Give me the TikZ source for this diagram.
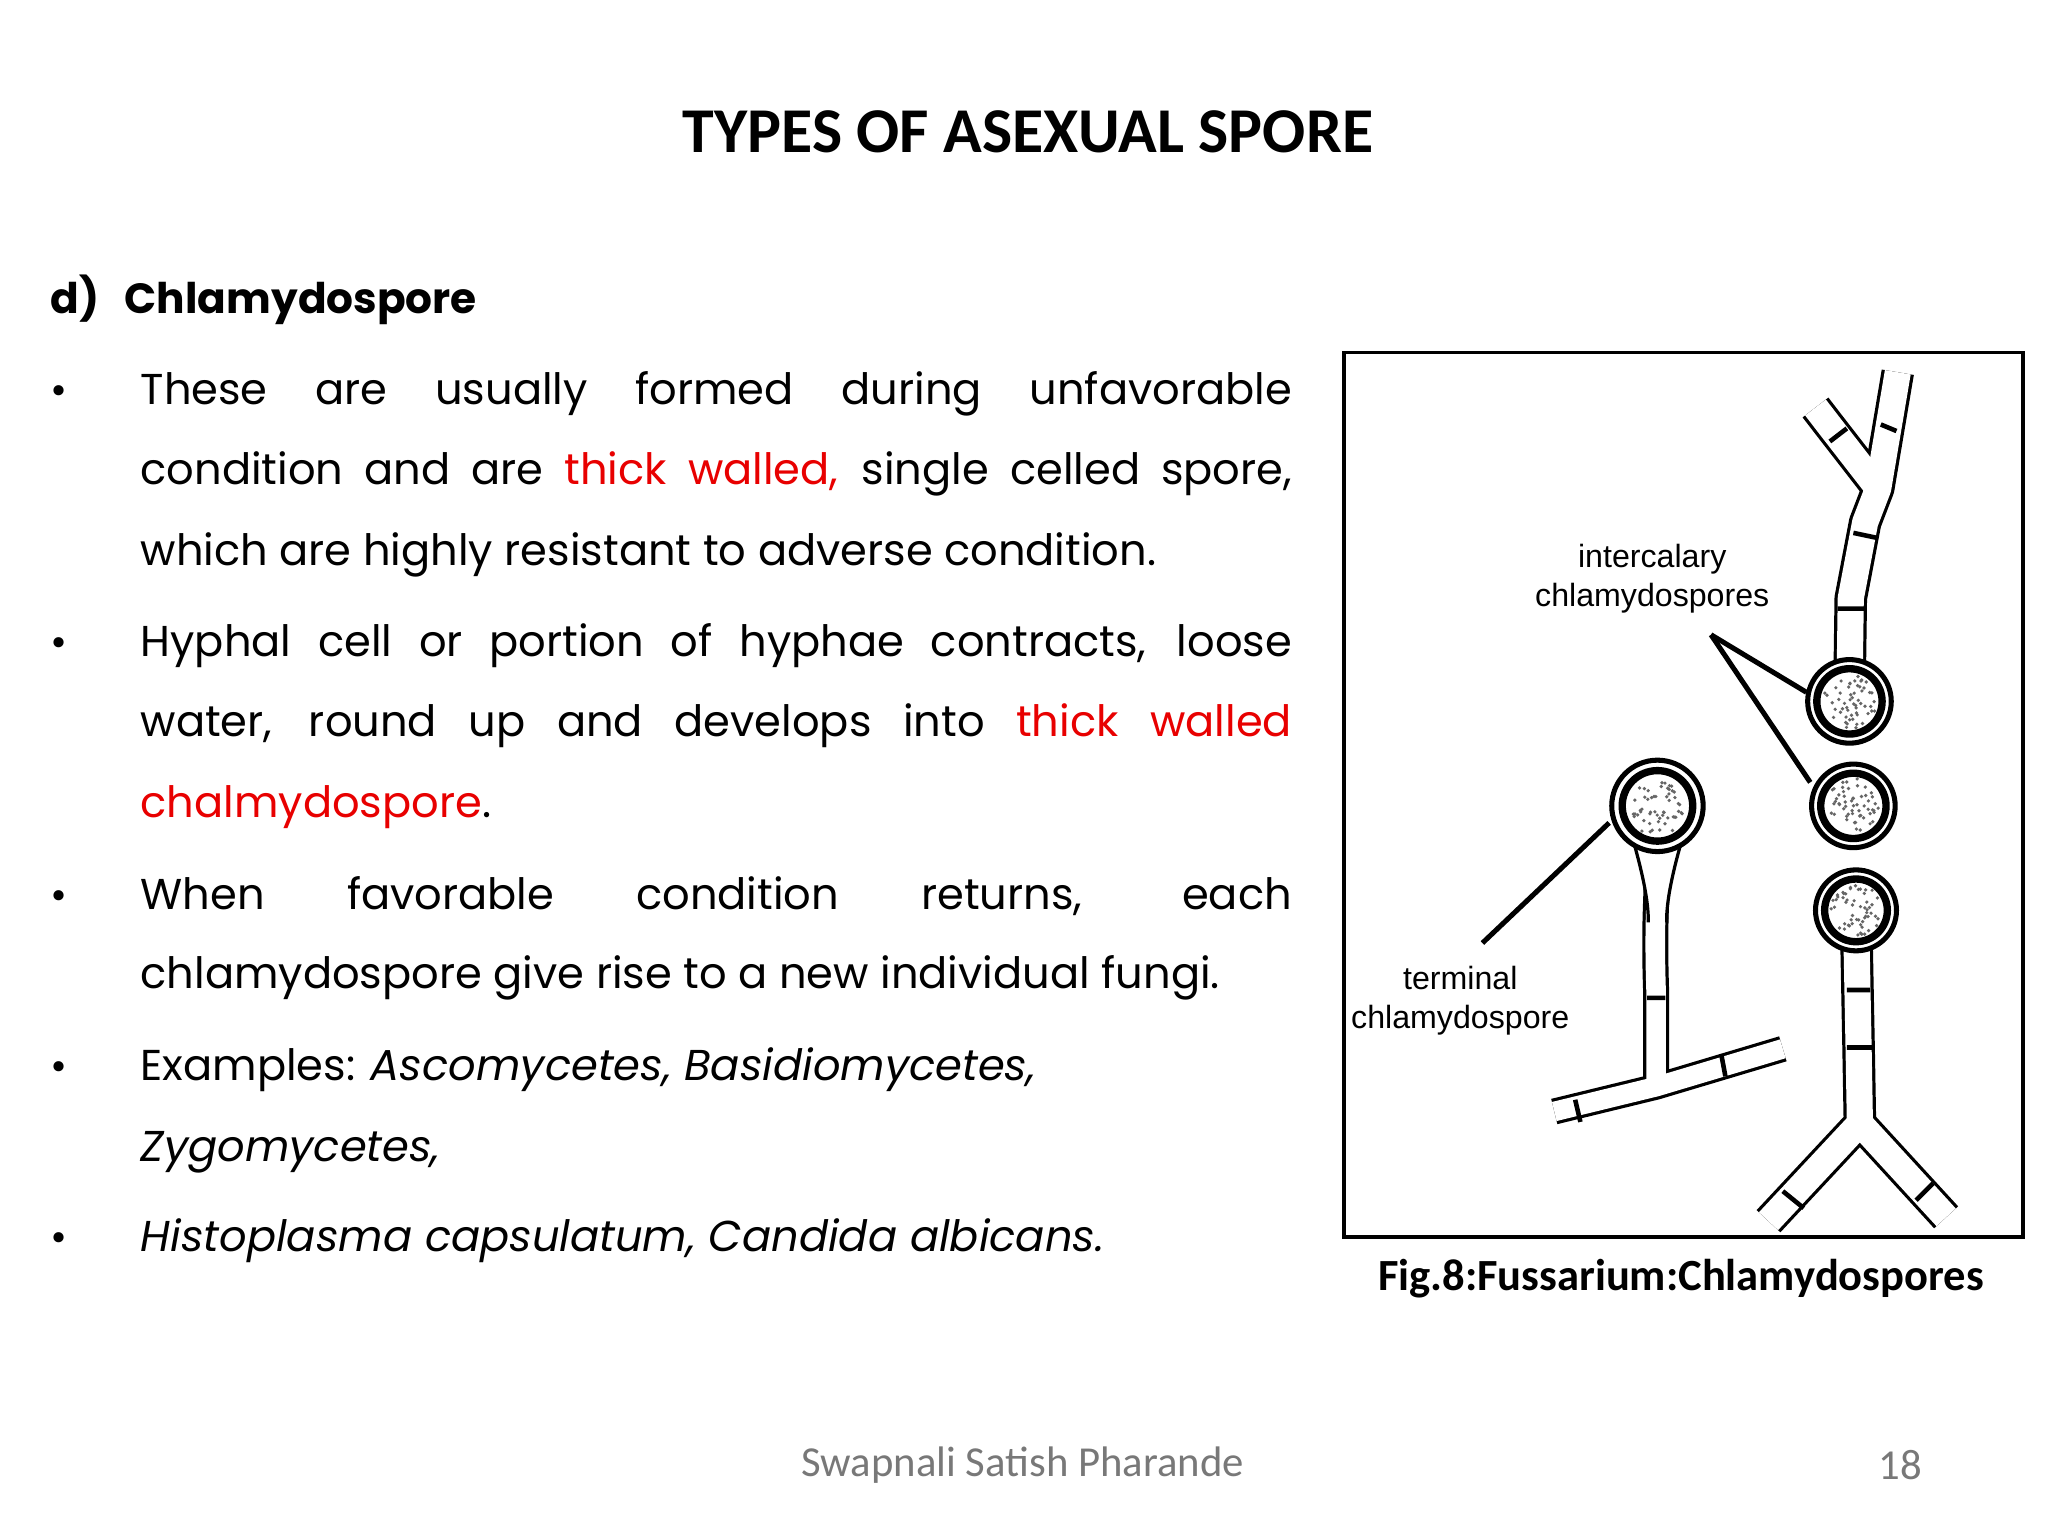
\documentclass[tikz,border=0pt]{standalone}
\usepackage{fontspec}
\usetikzlibrary{calc}
\setmainfont{Poppins}
\newfontfamily\carl{Carlito}
\newfontfamily\labfont{Liberation Sans}
\definecolor{rd}{RGB}{232,0,0}
\definecolor{ft}{RGB}{120,120,120}
\begin{document}
\begin{tikzpicture}[x=0.01cm,y=-0.01cm,
  body/.style={anchor=base west,inner sep=0,font=\fontsize{9.4}{12}\selectfont},
  bul/.style={anchor=base west,inner sep=0,font=\fontsize{9}{12}\selectfont},
  tubeo/.style={line width=0.2cm+1.4pt,black,line cap=butt,line join=round},
  tubei/.style={line width=0.2cm,white,line cap=butt,line join=round},
  tubeos/.style={line width=0.15cm+1.4pt,black,line cap=butt,line join=round},
  tubeis/.style={line width=0.15cm,white,line cap=butt,line join=round},
  lab/.style={font=\labfont\fontsize{7}{8.4}\selectfont,inner sep=0,align=center},
  ptr/.style={line width=1.1pt}]
\useasboundingbox (0,0) rectangle (1568,1176);
\node[font=\carl\bfseries\fontsize{13.9}{16}\selectfont] (title) at (787,101) {TYPES OF ASEXUAL SPORE};
\node[body,font=\bfseries\fontsize{9.2}{12}\selectfont] (hd) at (38,240) {d)\hspace{0.6em}Chlamydospore};
\foreach \y/\n in {310/b1,503/b2,696/b3,827/b4,958/b5}{\node[bul] (\n) at (38,\y) {•};}
\node[body] (l1) at (107,310) {\makebox[8.81cm][s]{These are usually formed during unfavorable}};
\node[body] (l2) at (107,371) {\makebox[8.81cm][s]{condition and are \textcolor{rd}{thick walled,} single celled spore,}};
\node[body] (l3) at (107,433) {which are highly resistant to adverse condition.};
\node[body] (l4) at (107,503) {\makebox[8.81cm][s]{Hyphal cell or portion of hyphae contracts, loose}};
\node[body] (l5) at (107,564) {\makebox[8.81cm][s]{water, round up and develops into \textcolor{rd}{thick walled}}};
\node[body] (l6) at (107,626) {\textcolor{rd}{chalmydospore}.};
\node[body] (l7) at (107,696) {\makebox[8.81cm][s]{When favorable condition returns, each}};
\node[body] (l8) at (107,757) {chlamydospore give rise to a new individual fungi.};
\node[body] (l9) at (107,827) {Examples: \textit{Ascomycetes, Basidiomycetes,}};
\node[body] (l10) at (107,889) {\textit{Zygomycetes,}};
\node[body] (l11) at (107,958) {\textit{Histoplasma capsulatum, Candida albicans.}};
% figure
\draw[line width=0.8pt] (1029,270) rectangle (1549,947);
\node[font=\carl\bfseries\fontsize{9.7}{12}\selectfont] (cap) at (1287,979) {Fig.8:Fussarium:Chlamydospores};
\def\tubes#1#2{%
\draw[#1] (1416,530) -- (1417,458) -- (1428,400) -- (1438,374) -- (1453,285);
\draw[#1] (1438,374) -- (1400,325) -- (1390,312);
\draw[#1] (1421,700) -- (1423,803) -- (1424,860) -- (1354,935);
\draw[#1] (1424,860) -- (1490,932);
\draw[#2] (1269,640) .. controls (1269,690) and (1266,700) .. (1268,760) -- (1268,830);
\draw[#2] (1190,851) -- (1268,832) -- (1365,803);
}
\tubes{tubeo}{tubeos}
\tubes{tubei}{tubeis}
\fill[white,draw=black,line width=0.7pt] (1250,642) .. controls (1258,670) and (1262,690) .. (1262,705) -- (1276,705) .. controls (1276,690) and (1280,670) .. (1288,642) -- cycle;
\fill[white] (1263,700) rectangle (1275,712);
\draw[line width=1pt] (1407,466)--(1428,466) (1419,408)--(1438,412) (1401,338)--(1414,328) (1414,758)--(1432,758) (1414,802)--(1434,802)
 (1365,912)--(1381,925) (1480,906)--(1467,919) (1261,764)--(1275,764) (1206,842)--(1210,859) (1318,808)--(1321,824) (1440,325)--(1452,330);
\pgfmathsetseed{7}
\foreach \cx/\cy/\ro/\ri [count=\i] in {1416/537/32/25,1419/617/32/25,1421/697/31/24,1269/617/35/27}{
  \coordinate (sp\i) at (\cx,\cy);
  \fill[white] (sp\i) circle[radius=\ro*0.01cm];
  \draw[line width=1.1pt] (sp\i) circle[radius=\ro*0.01cm];
  \draw[line width=1.6pt] (sp\i) circle[radius=\ri*0.01cm];
  \foreach \k in {1,...,55}{
    \pgfmathsetmacro\rr{(\ri-4)*sqrt(rnd)}\pgfmathsetmacro\th{360*rnd}
    \fill[black!60] ($(sp\i)+(\th:\rr*0.01cm)$) circle[radius=0.4pt];
  }
}
\node[lab] (ilab) at (1265,443) {intercalary\\chlamydospores};
\node[lab] (tlab) at (1118,766) {terminal\\chlamydospore};
\coordinate (ip) at (1310,486);
\draw[ptr] (ip) -- (1383,530);
\draw[ptr] (ip) -- (1386,599);
\draw[ptr] (1135,722) -- (1232,630);
\node[font=\carl\fontsize{9.3}{11}\selectfont,text=ft] (foot) at (783,1122) {Swapnali Satish Pharande};
\node[font=\carl\fontsize{9.3}{11}\selectfont,text=ft] (pg) at (1455,1122) {18};
\end{tikzpicture}
\end{document}
